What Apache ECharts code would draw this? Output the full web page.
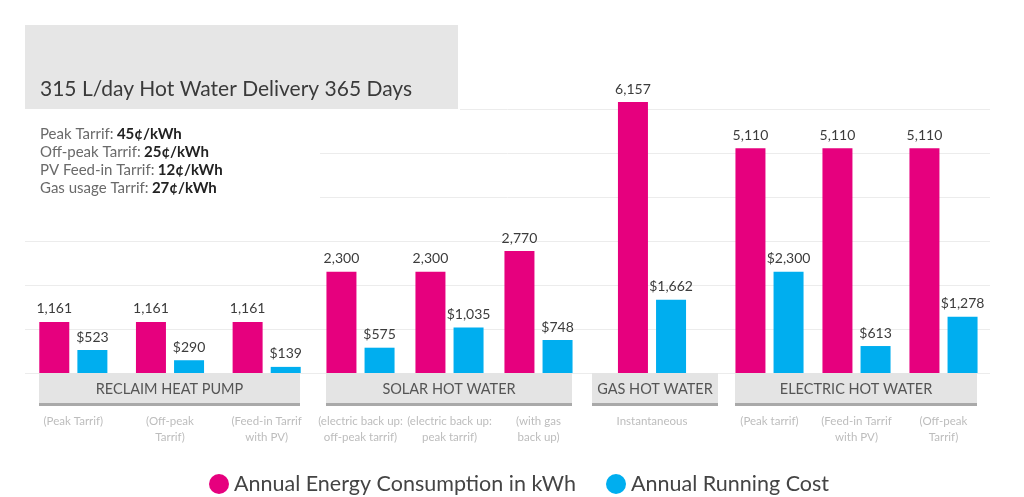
<!DOCTYPE html>
<html>
<head>
<meta charset="utf-8">
<script src="https://cdn.jsdelivr.net/npm/echarts@6/dist/echarts.min.js"></script>
<style>
  html, body { margin: 0; padding: 0; background: #fff; }
  #chart-area { width: 1024px; height: 497px; }
</style>
</head>
<body>
<div id="chart-area"></div>
<script>
// group names shown on the grey bands
const groupNames = ['RECLAIM HEAT PUMP', 'SOLAR HOT WATER', 'GAS HOT WATER', 'ELECTRIC HOT WATER'];
// sub-category labels under each pair of bars
const reclaimCats = ['(Peak Tarrif)', '(Off-peak\nTarrif)', '(Feed-in Tarrif\nwith PV)'];
const solarCats = ['(electric back up:\noff-peak tarrif)', '(electric back up:\npeak tarrif)', '(with gas\nback up)'];
const gasCats = ['Instantaneous'];
const electricCats = ['(Peak tarrif)', '(Feed-in Tarrif\nwith PV)', '(Off-peak\nTarrif)'];
// annual energy consumption (kWh)
const reclaimEnergy = [1161, 1161, 1161];
const solarEnergy = [2300, 2300, 2770];
const gasEnergy = [6157];
const electricEnergy = [5110, 5110, 5110];
// annual running cost ($)
const reclaimCost = [523, 290, 139];
const solarCost = [575, 1035, 748];
const gasCost = [1662];
const electricCost = [2300, 613, 1278];
// tariff notes
const tariffNames = ['Peak Tarrif:', 'Off-peak Tarrif:', 'PV Feed-in Tarrif:', 'Gas usage Tarrif:'];
const tariffValues = ['45¢/kWh', '25¢/kWh', '12¢/kWh', '27¢/kWh'];

const energyName = 'Annual Energy Consumption in kWh';
const costName = 'Annual Running Cost';
const pink = '#e6007e';
const blue = '#00aeef';
const font = 'Lato';

const groups = [
  { cats: reclaimCats, energy: reclaimEnergy, cost: reclaimCost, left: 25, width: 290, band: [39, 300] },
  { cats: solarCats, energy: solarEnergy, cost: solarCost, left: 316, width: 267, band: [326, 572] },
  { cats: gasCats, energy: gasEnergy, cost: gasCost, left: 586, width: 132, band: [592, 718] },
  { cats: electricCats, energy: electricEnergy, cost: electricCost, left: 726, width: 261, band: [735, 977] }
];

const myChart = echarts.init(document.getElementById('chart-area'));

const fmt = (v) => v.toLocaleString('en-US');

let grid = [{ left: 25, right: 34, top: 65, bottom: 124 }];
let xAxis = [{ gridIndex: 0, type: 'category', data: [''], show: false }];
let yAxis = [{
  gridIndex: 0, type: 'value', min: 0, max: 7000, interval: 1000,
  axisLabel: { show: false }, axisLine: { show: false }, axisTick: { show: false },
  splitLine: {
    show: true,
    lineStyle: { color: ['#ececec', '#ececec', '#ececec', '#ececec', '#ececec', '#ececec', '#ececec', 'rgba(0,0,0,0)'], width: 1 }
  }
}];
let series = [];
let graphic = [
  // title box
  { type: 'rect', left: 25, top: 25, shape: { width: 433, height: 84 }, style: { fill: '#e6e6e6' }, z: 5 },
  // white areas where the grid lines fade out behind the notes
  { type: 'rect', left: 20, top: 109, shape: { width: 440, height: 3 }, style: { fill: '#fff' }, z: 5 },
  { type: 'rect', left: 20, top: 112, shape: { width: 300, height: 95 }, style: { fill: '#fff' }, z: 5 },
  {
    type: 'text', left: 40, top: 79, z: 10,
    style: { text: '315 L/day Hot Water Delivery 365 Days', fontSize: 21, fontFamily: font, fill: '#3a3a3a' }
  }
];

tariffNames.forEach((n, i) => {
  graphic.push({
    type: 'text', left: 40, top: 127 + i * 18, z: 10,
    style: {
      text: '{a|' + n + '} {b|' + tariffValues[i] + '}',
      rich: {
        a: { fontSize: 15, fontFamily: font, fill: '#6a6a6a', color: '#6a6a6a' },
        b: { fontSize: 15, fontFamily: font, fontWeight: 'bold', fill: '#222', color: '#222' }
      }
    }
  });
});

groups.forEach((g, i) => {
  const gi = i + 1;
  grid.push({ left: g.left, width: g.width, top: 65, bottom: 124 });
  xAxis.push({
    gridIndex: gi, type: 'category', data: g.cats,
    axisLine: { show: false }, axisTick: { show: false },
    axisLabel: {
      interval: 0, margin: 40, fontSize: 11.5, lineHeight: 16,
      color: '#bdbdbd', fontFamily: font, align: 'center'
    }
  });
  yAxis.push({ gridIndex: gi, type: 'value', min: 0, max: 7000, interval: 1000, show: false, splitLine: { show: false } });
  series.push({
    name: energyName, type: 'bar', xAxisIndex: gi, yAxisIndex: gi,
    barWidth: 30, barGap: '27%',
    itemStyle: { color: pink },
    label: { show: true, position: 'top', distance: 6, fontSize: 14, color: '#3c3c3c', fontFamily: font, formatter: (p) => fmt(p.value) },
    data: g.energy
  });
  series.push({
    name: costName, type: 'bar', xAxisIndex: gi, yAxisIndex: gi,
    barWidth: 30, barGap: '27%',
    itemStyle: { color: blue },
    label: { show: true, position: 'top', distance: 6, fontSize: 14, color: '#3c3c3c', fontFamily: font, formatter: (p) => '$' + fmt(p.value) },
    data: g.cost
  });
  // grey group band under the bars
  graphic.push({
    type: 'rect', left: g.band[0], top: 373, z: 10,
    shape: { width: g.band[1] - g.band[0], height: 31 },
    style: { fill: '#e4e4e4' }
  });
  graphic.push({
    type: 'rect', left: g.band[0], top: 403, z: 10,
    shape: { width: g.band[1] - g.band[0], height: 3 },
    style: { fill: '#a9a9a9' }
  });
  graphic.push({
    type: 'text', z: 11,
    x: (g.band[0] + g.band[1]) / 2, y: 389,
    style: {
      text: groupNames[i], fontSize: 14.5, fontFamily: font, fill: '#555',
      align: 'center', verticalAlign: 'middle'
    }
  });
});

const option = {
  backgroundColor: '#fff',
  animation: false,
  textStyle: { fontFamily: font },
  legend: {
    data: [energyName, costName],
    left: 204, top: 468,
    icon: 'circle', itemWidth: 20, itemHeight: 20, itemGap: 30,
    textStyle: { fontSize: 21.5, color: '#444', fontFamily: font }
  },
  grid: grid,
  xAxis: xAxis,
  yAxis: yAxis,
  series: series,
  graphic: graphic
};
option && myChart.setOption(option);
</script>
</body>
</html>
